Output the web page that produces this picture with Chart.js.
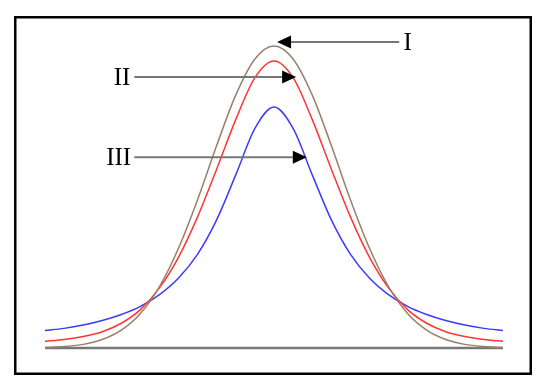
<!DOCTYPE html>
<html>
<head>
<meta charset="utf-8">
<script src="https://cdn.jsdelivr.net/npm/chart.js@4/dist/chart.umd.min.js"></script>
<style>
  html, body { margin: 0; padding: 0; background: #fff; }
  #wrap { width: 546px; height: 388px; }
</style>
</head>
<body>
<div id="wrap"><canvas id="c" width="546" height="388"></canvas></div>
<script>
// ── Dados ─────────────────────────────────────────────────────
const xs = [-6, -5.5, -5, -4.5, -4, -3.5, -3, -2.5, -2, -1.5, -1, -0.5, 0,
            0.5, 1, 1.5, 2, 2.5, 3, 3.5, 4, 4.5, 5, 5.5, 6];

// curva I (marrom, mais alta e estreita)
const curveI = [0.002, 0.005, 0.012, 0.028, 0.059, 0.114, 0.203, 0.331, 0.492, 0.671, 0.838, 0.957, 1.000,
                0.957, 0.838, 0.671, 0.492, 0.331, 0.203, 0.114, 0.059, 0.028, 0.012, 0.005, 0.002];
// curva II (vermelha)
const curveII = [0.022, 0.028, 0.038, 0.054, 0.082, 0.127, 0.199, 0.301, 0.435, 0.593, 0.757, 0.895, 0.950,
                 0.895, 0.757, 0.593, 0.435, 0.301, 0.199, 0.127, 0.082, 0.054, 0.038, 0.028, 0.022];
// curva III (azul, mais baixa e larga)
const curveIII = [0.058, 0.065, 0.076, 0.091, 0.111, 0.138, 0.177, 0.232, 0.311, 0.425, 0.574, 0.727, 0.798,
                  0.727, 0.574, 0.425, 0.311, 0.232, 0.177, 0.138, 0.111, 0.091, 0.076, 0.065, 0.058];
const baseline = xs.map(() => 0);

const labels = ['I', 'II', 'III'];
// rótulos com setas: posição do texto e ponta da seta (em unidades de dados)
const notes = [
  { text: labels[0], tx: 3.50, ty: 1.013, from: 3.28, tip: 0.08 },
  { text: labels[1], tx: -3.98, ty: 0.897, from: -3.66, tip: 0.58 },
  { text: labels[2], tx: -4.07, ty: 0.632, from: -3.66, tip: 0.86 }
];

const COLORS = {
  I:    '#9a7f69',
  II:   '#ff3535',
  III:  '#3b3bff',
  base: '#777777',
  arrow:'#777777'
};

const toPts = arr => xs.map((x, i) => ({ x, y: arr[i] }));

const line = (data, color, width = 1.5) => ({
  data: toPts(data),
  borderColor: color,
  borderWidth: width,
  pointRadius: 0,
  cubicInterpolationMode: 'monotone',
  fill: false,
  clip: false
});

// ── Moldura, rótulos e setas ──────────────────────────────────
const annot = {
  id: 'annot',
  afterDatasetsDraw(chart) {
    const { ctx, scales: { x, y } } = chart;
    ctx.save();
    notes.forEach(n => {
      const yy = y.getPixelForValue(n.ty);
      const x0 = x.getPixelForValue(n.from);
      const x1 = x.getPixelForValue(n.tip);
      const dir = x1 > x0 ? 1 : -1;
      const head = 14;
      ctx.strokeStyle = COLORS.arrow;
      ctx.lineWidth = 2;
      ctx.beginPath();
      ctx.moveTo(x0, yy);
      ctx.lineTo(x1 - dir * head, yy);
      ctx.stroke();
      ctx.fillStyle = '#000';
      ctx.beginPath();
      ctx.moveTo(x1, yy);
      ctx.lineTo(x1 - dir * head, yy - 6.5);
      ctx.lineTo(x1 - dir * head, yy + 6.5);
      ctx.closePath();
      ctx.fill();

      ctx.font = "25px 'Liberation Serif', 'DejaVu Serif', serif";
      ctx.textAlign = 'center';
      ctx.textBaseline = 'middle';
      ctx.fillText(n.text, x.getPixelForValue(n.tx), yy + 1);
    });
    // moldura
    ctx.strokeStyle = '#000';
    ctx.lineWidth = 2.5;
    ctx.strokeRect(15.25, 17.25, 515.5, 356.5);
    ctx.restore();
  }
};

new Chart(document.getElementById('c').getContext('2d'), {
  type: 'line',
  data: {
    datasets: [
      line(curveI, COLORS.I),
      line(curveII, COLORS.II),
      line(curveIII, COLORS.III),
      line(baseline, COLORS.base, 2.5)
    ]
  },
  options: {
    responsive: false,
    animation: false,
    layout: { padding: { left: 45, right: 43, top: 46, bottom: 40 } },
    plugins: { legend: { display: false }, tooltip: { enabled: false } },
    scales: {
      x: { type: 'linear', min: -6, max: 6, display: false },
      y: { min: 0, max: 1, display: false }
    }
  },
  plugins: [annot]
});
</script>
</body>
</html>
